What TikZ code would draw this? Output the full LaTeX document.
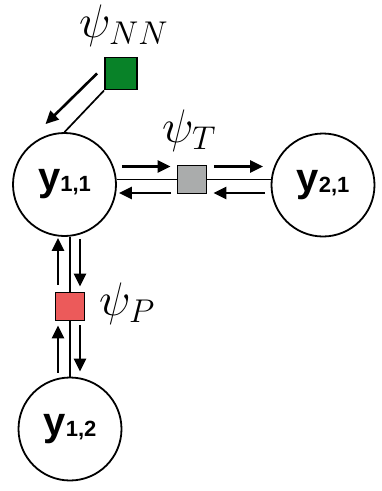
\documentclass[tikz,border=0pt]{standalone}
\usepackage{fix-cm}
\usepackage{fontspec}
\newfontfamily\varfont{Liberation Sans}
\usetikzlibrary{arrows.meta}
\definecolor{nngreen}{RGB}{8,130,40}
\definecolor{tgray}{RGB}{170,172,172}
\definecolor{pred}{RGB}{236,90,90}
\newcommand{\yvar}[1]{{\varfont\bfseries\fontsize{40}{40}\selectfont y\fontsize{22}{22}\selectfont\raisebox{-1pt}{#1}}}
\begin{document}
\begin{tikzpicture}[x=1pt,y=-1pt,
  varnode/.style={circle,draw,line width=1.8pt,minimum size=103pt,inner sep=0pt},
  facnode/.style={rectangle,draw,line width=1.8pt,minimum width=29pt,minimum height=28pt,inner sep=0pt},
  conn/.style={line width=1.7pt},
  msg/.style={-{Triangle[length=13pt,width=12pt]},line width=2.6pt},
  lab/.style={inner sep=0pt,anchor=base west,font=\fontsize{47}{50}\selectfont}]
\useasboundingbox (0,0) rectangle (381,491);
\node[varnode] (y11) at (64.5,184.5) {\yvar{1,1}};
\node[varnode] (y21) at (323,185) {\yvar{2,1}};
\node[varnode] (y12) at (70,429) {\yvar{1,2}};
\node[facnode,fill=nngreen,minimum width=32pt,minimum height=32pt] (nn) at (121,73.5) {};
\node[facnode,fill=tgray] (tt) at (192,179.5) {};
\node[facnode,fill=pred] (pp) at (70,306.5) {};
\node[lab] (lnn) at (79,37) {$\psi_{NN}$};
\node[lab] (ltt) at (162,142) {$\psi_{T}$};
\node[lab] (lpp) at (99,315) {$\psi_{P}$};
% connectors
\draw[conn] (nn.south west) -- (y11.north);
\draw[conn] (tt.west) -- (tt -| y11.east);
\draw[conn] (tt.east) -- (tt -| y21.west);
\draw[conn] (pp.north) -- (pp |- y11.south);
\draw[conn] (pp.south) -- (pp |- y12.north);
% messages
\draw[msg] ([shift={(-7,-17)}]nn.south west) -- ([shift={(-19,-8)}]y11.north);
\draw[msg] ([shift={(5,-13)}]y11.east |- tt) -- ([shift={(-6,-13)}]tt.west);
\draw[msg] ([shift={(6.5,-13)}]tt.east) -- ([shift={(-7.5,-13)}]y21.west |- tt);
\draw[msg] ([shift={(-5.5,13.5)}]tt.west) -- ([shift={(2,13.5)}]y11.east |- tt);
\draw[msg] ([shift={(-5.5,13.5)}]y21.west |- tt) -- ([shift={(6,13.5)}]tt.east);
\draw[msg] ([shift={(-12,-7)}]pp.north) -- ([shift={(-12,1)}]pp |- y11.south);
\draw[msg] ([shift={(10,2)}]pp |- y11.south) -- ([shift={(10,-5)}]pp.north);
\draw[msg] ([shift={(-12,-4)}]pp |- y12.north) -- ([shift={(-12,4)}]pp.south);
\draw[msg] ([shift={(10,4)}]pp.south) -- ([shift={(10,-5)}]pp |- y12.north);
\end{tikzpicture}
\end{document}
